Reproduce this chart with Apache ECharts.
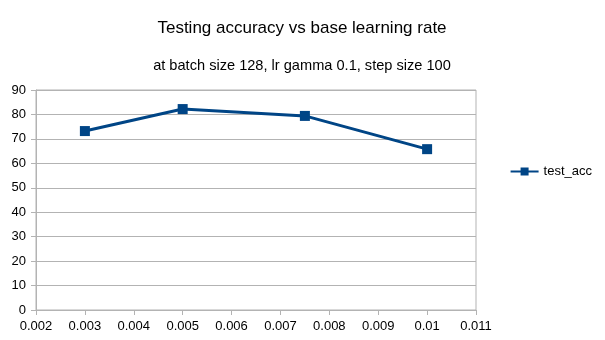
<!DOCTYPE html>
<html><head><meta charset="utf-8">
<script src="https://cdn.jsdelivr.net/npm/echarts@6/dist/echarts.min.js"></script>
<style>html,body{margin:0;padding:0;background:#fff}#c{width:605px;height:340px}</style>
</head><body><div id="c"></div>
<script>
const seriesName = 'test_acc';
const learningRates = [0.003, 0.005, 0.0075, 0.01];
const testAcc = [73.2, 82.2, 79.4, 65.8];
const titleText = 'Testing accuracy vs base learning rate';
const subtitleText = 'at batch size 128, lr gamma 0.1, step size 100';

const chart = echarts.init(document.getElementById('c'));
const font = '"Liberation Sans", Arial, sans-serif';
chart.setOption({
  animation: false,
  backgroundColor: '#fff',
  title: [
    {text: titleText, left: 297, top: 15, textAlign: 'center',
     textStyle: {fontFamily: font, fontSize: 17, fontWeight: 'normal', color: '#000'}},
    {text: subtitleText, left: 297, top: 53, textAlign: 'center',
     textStyle: {fontFamily: font, fontSize: 14.6, fontWeight: 'normal', color: '#000'}}
  ],
  legend: {
    data: [seriesName], right: 8, top: 160, orient: 'vertical',
    itemWidth: 28, itemHeight: 10, itemGap: 5,
    textStyle: {fontFamily: font, fontSize: 13, color: '#000'}
  },
  grid: {left: 36, right: 129, top: 90, bottom: 30, show: true, borderColor: '#b3b3b3', borderWidth: 1, backgroundColor: 'transparent'},
  xAxis: {
    type: 'value', min: 0.002, max: 0.011, interval: 0.001,
    axisLine: {show: true, lineStyle: {color: '#b3b3b3'}},
    axisTick: {show: true, length: 5, lineStyle: {color: '#b3b3b3'}},
    splitLine: {show: false},
    axisLabel: {fontFamily: font, fontSize: 13, color: '#000', margin: 10,
      formatter: v => String(parseFloat(v.toFixed(4)))}
  },
  yAxis: {
    type: 'value', min: 0, max: 90, interval: 10,
    axisLine: {show: true, lineStyle: {color: '#b3b3b3'}},
    axisTick: {show: true, length: 5, lineStyle: {color: '#b3b3b3'}},
    splitLine: {show: true, lineStyle: {color: '#b3b3b3'}},
    axisLabel: {fontFamily: font, fontSize: 13, color: '#000', margin: 10}
  },
  series: [{
    name: seriesName, type: 'line',
    data: learningRates.map((x, i) => [x, testAcc[i]]),
    symbol: 'rect', symbolSize: 10,
    lineStyle: {color: '#004586', width: 3},
    itemStyle: {color: '#004586'}
  }]
});
</script></body></html>
